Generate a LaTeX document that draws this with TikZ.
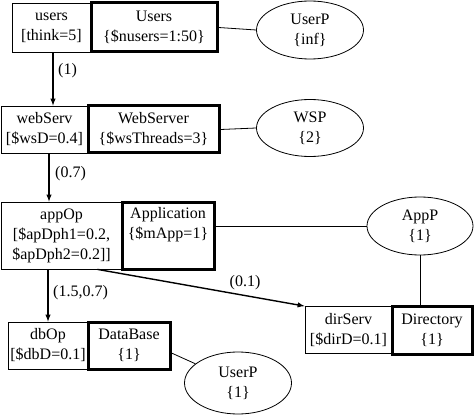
\documentclass[tikz,border=0pt]{standalone}
\usepackage{fontspec}
\setmainfont{Liberation Serif}
\usetikzlibrary{shapes.geometric}

\tikzset{
	entry/.style={draw, line width=0.8pt, rectangle, inner sep=0pt, align=center},
	task/.style={draw, line width=3pt, rectangle, inner sep=0pt, align=center},
	host/.style={draw, line width=0.8pt, ellipse, inner sep=0pt, align=center},
	call/.style={->, line width=1.4pt},
	link/.style={line width=0.8pt},
	rate/.style={inner sep=1pt}
}

\begin{document}
\begin{tikzpicture}[x=1pt, y=-1pt, >=latex, font=\fontsize{16}{20}\selectfont]

	\useasboundingbox (0,0) rectangle (474,417);

	% === NODES === (((
	\node[entry, minimum width=79, minimum height=49] (users) at (51.5,27.5) {users\\{}[think=5]};
	\node[task, minimum width=126, minimum height=49] (Users) at (154,27.5) {Users\\\{\$nusers=1:50\}};
	\node[host, minimum width=107, minimum height=58] (UserP) at (310,30) {UserP\\\{inf\}};

	\node[entry, minimum width=87, minimum height=47] (webServ) at (44.5,129.5) {webServ\\{}[\$wsD=0.4]};
	\node[task, minimum width=131, minimum height=47] (WebServer) at (153.5,129.5) {WebServer\\\{\$wsThreads=3\}};
	\node[host, minimum width=107, minimum height=57] (WSP) at (310,128) {WSP\\\{2\}};

	\node[entry, minimum width=121, minimum height=67] (appOp) at (61.5,235.5) {appOp\\{}[\$apDph1=0.2,\\\$apDph2=0.2]]};
	\node[task, minimum width=92, minimum height=67] (Application) at (168,235.5) {Application\\\{\$mApp=1\}\\\strut};
	\node[host, minimum width=106, minimum height=58] (AppP) at (420,226) {AppP\\\{1\}};

	\node[entry, minimum width=87, minimum height=47] (dirServ) at (348.5,330) {dirServ\\{}[\$dirD=0.1]};
	\node[task, minimum width=80, minimum height=48] (Directory) at (432,330) {Directory\\\{1\}};

	\node[entry, minimum width=80, minimum height=47] (dbOp) at (48,345.5) {dbOp\\{}[\$dbD=0.1]};
	\node[task, minimum width=82, minimum height=47] (DataBase) at (129,345.5) {DataBase\\\{1\}};
	\node[host, minimum width=107, minimum height=62] (UserP2) at (238,383) {UserP\\\{1\}};

	\node[rate, anchor=west] (r1) at (57,71) {(1)};
	\node[rate, anchor=west] (r2) at (54,174) {(0.7)};
	\node[rate, anchor=west] (r3) at (52,293) {(1.5,0.7)};
	\node[rate] (r4) at (245,283) {(0.1)};
	% )))

	% === LINES === (((
	\draw[call] ([xshift=1.5pt]users.south) -- ([xshift=1.5pt]users.south |- webServ.north);
	\draw[call] ([xshift=4.5pt]webServ.south) -- ([xshift=4.5pt]webServ.south |- appOp.north);
	\draw[call] (dbOp.north |- appOp.south) -- (dbOp.north);
	\draw[call] ([xshift=36pt]appOp.south) -- (dirServ.north west);

	\draw[link] (Users.east) -- (UserP.west);
	\draw[link] (WebServer.east) -- (WSP.west);
	\draw[link] (Application.east |- AppP.west) -- (AppP.west);
	\draw[link] (AppP.south) -- (AppP.south |- Directory.north);
	\draw[link] ([yshift=-7.5pt]DataBase.east) -- (UserP2);
	% )))

\end{tikzpicture}
\end{document}
